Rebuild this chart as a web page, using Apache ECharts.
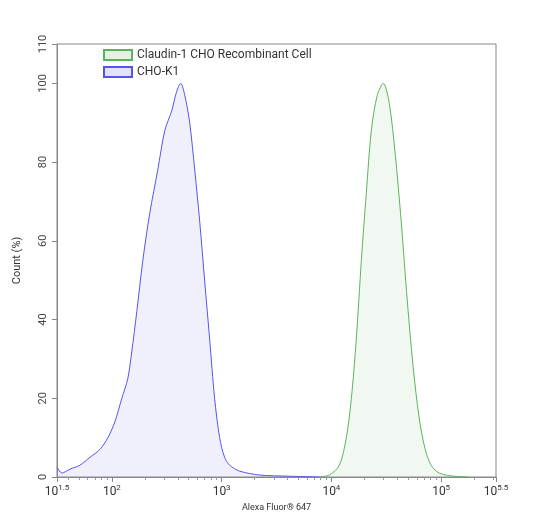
<!DOCTYPE html>
<html lang="en">
<head>
<meta charset="UTF-8">
<title>flow histogram</title>
<style>
html,body{margin:0;padding:0;background:#fff;}
#chart{width:545px;height:521px;}
</style>
</head>
<body>
<div id="chart"></div>
<script src="https://cdn.jsdelivr.net/npm/echarts@6/dist/echarts.min.js"></script>
<script>
// x values are log10 of fluorescence intensity
var xMajor = [1.5, 2, 3, 4, 5, 5.5];
var xLabels = ['1.5', '2', '3', '4', '5', '5.5'];
var yTicks = [0, 20, 40, 60, 80, 100, 110];
var seriesNames = ['Claudin-1 CHO Recombinant Cell', 'CHO-K1'];

var blueX = [1.5, 1.545, 1.618, 1.709, 1.8, 1.891, 1.964, 2.027, 2.091, 2.145, 2.182, 2.227, 2.282, 2.345, 2.418, 2.482, 2.545, 2.591, 2.627, 2.664, 2.709, 2.755, 2.8, 2.845, 2.891, 2.936, 2.982, 3.027, 3.073, 3.164, 3.345, 3.618, 3.891];
var blueY = [2.5, 1, 2, 3, 5, 7, 10, 14, 20, 25, 32, 42, 55, 67, 78, 88, 93, 98, 100, 97, 90, 78, 65, 50, 35, 20, 10, 5, 3, 1.5, 0.5, 0.2, 0];
var greenX = [3.891, 3.982, 4.073, 4.136, 4.182, 4.227, 4.273, 4.318, 4.364, 4.418, 4.473, 4.527, 4.582, 4.636, 4.691, 4.745, 4.8, 4.855, 4.909, 4.982, 5.118, 5.255];
var greenY = [0, 0.5, 3, 10, 20, 35, 55, 72, 88, 97, 100, 95, 82, 65, 45, 28, 15, 7, 3, 1, 0.2, 0];

function pairs(xs, ys){
	var arr = [];
	for(var i = 0; i < xs.length; i++) arr.push([xs[i], ys[i]]);
	return arr;
}

var minor = [];
for(var d = 1; d <= 5; d++){
	for(var k = 2; k <= 9; k++){
		var v = d + Math.log10(k);
		if(v > 1.5 && v < 5.5) minor.push(v);
	}
}

var chart = echarts.init(document.getElementById('chart'));
var font = 'Roboto, Arial, sans-serif';
var option = {
	backgroundColor: '#fff',
	animation: false,
	textStyle: {fontFamily: font},
	grid: {left: 57, right: 49, top: 44, bottom: 44, show: true, borderColor: '#888', borderWidth: 1},
	legend: {
		orient: 'vertical', left: 98, top: 44, itemWidth: 28, itemHeight: 10, itemGap: 5,
		icon: 'rect',
		textStyle: {color: '#333', fontSize: 12, fontFamily: font},
		data: [seriesNames[0], seriesNames[1]]
	},
	xAxis: [{
		type: 'value', min: 1.5, max: 5.5,
		name: 'Alexa Fluor® 647', nameLocation: 'middle', nameGap: 24,
		nameTextStyle: {fontSize: 9, color: '#333'},
		axisLine: {lineStyle: {color: '#888'}},
		splitLine: {show: false},
		axisTick: {customValues: xMajor, length: 5, lineStyle: {color: '#888'}},
		axisLabel: {
			customValues: xMajor, color: '#333', fontSize: 12, margin: 7,
			formatter: function(v){
				var i = xMajor.indexOf(v);
				return '10{s|' + xLabels[i] + '}';
			},
			rich: {s: {fontSize: 8, verticalAlign: 'top', padding: [0, 0, 8, 0], color: '#333'}}
		}
	}, {
		type: 'value', min: 1.5, max: 5.5, position: 'bottom',
		axisLine: {show: false}, splitLine: {show: false},
		axisLabel: {show: false},
		axisTick: {customValues: minor, length: 3, lineStyle: {color: '#999'}}
	}],
	yAxis: {
		type: 'value', min: 0, max: 110,
		name: 'Count (%)', nameLocation: 'middle', nameGap: 34,
		nameTextStyle: {fontSize: 11, color: '#333'},
		axisLine: {show: true, lineStyle: {color: '#888'}},
		splitLine: {show: false},
		axisTick: {customValues: yTicks, length: 5, lineStyle: {color: '#888'}},
		minorTick: {show: false},
		axisLabel: {customValues: yTicks, rotate: 90, color: '#444', fontSize: 11, margin: 8}
	},
	series: [{
		name: seriesNames[0], type: 'line', data: pairs(greenX, greenY),
		smooth: 0.3, symbol: 'none', color: '#5bb35b',
		lineStyle: {color: '#5bb35b', width: 1},
		areaStyle: {color: 'rgba(120,190,120,0.15)'},
		itemStyle: {color: 'rgba(120,190,120,0.2)', borderColor: '#5bb35b', borderWidth: 1}
	}, {
		name: seriesNames[1], type: 'line', data: pairs(blueX, blueY),
		smooth: 0.3, symbol: 'none', color: '#5555ee',
		lineStyle: {color: '#5555ee', width: 1},
		areaStyle: {color: 'rgba(110,110,230,0.15)'},
		itemStyle: {color: 'rgba(110,110,230,0.2)', borderColor: '#5555ee', borderWidth: 1}
	}]
};
chart.setOption(option);
</script>
</body>
</html>
